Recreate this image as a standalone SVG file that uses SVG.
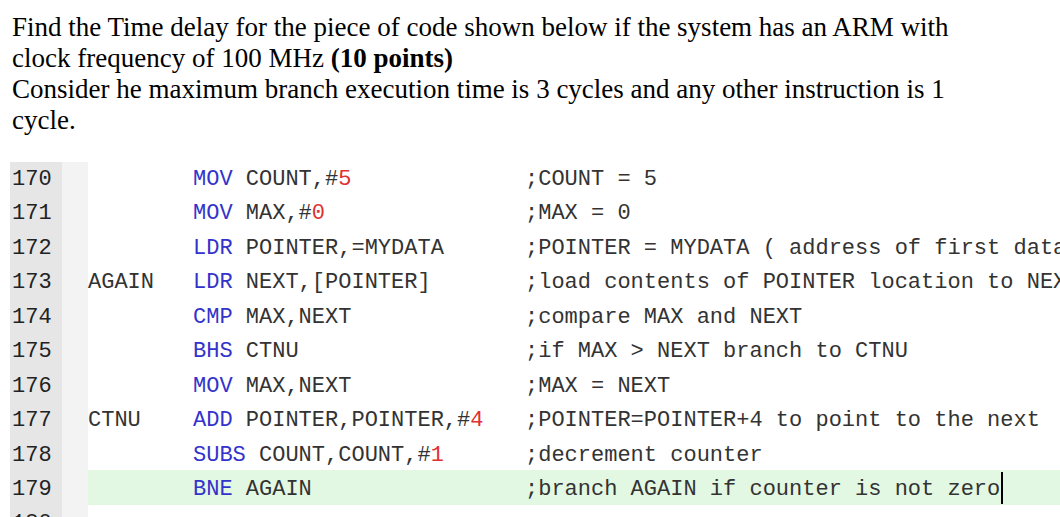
<svg xmlns="http://www.w3.org/2000/svg" width="1060" height="517" viewBox="0 0 1060 517">
<style>
.h{font-family:"Liberation Serif",serif;font-size:27px;fill:#000}
.c{font-family:"Liberation Mono",monospace;font-size:22px;fill:#333}
.n{font-family:"Liberation Mono",monospace;font-size:22px;fill:#222}
.k{fill:#3333cc}.r{fill:#e03030}
</style>
<rect width="1060" height="517" fill="#fff"/>
<text class="h" x="12" y="36">Find the Time delay for the piece of code shown below if the system has an ARM with</text>
<text class="h" x="12" y="67">clock frequency of 100 MHz <tspan font-weight="bold">(10 points)</tspan></text>
<text class="h" x="12" y="98">Consider he maximum branch execution time is 3 cycles and any other instruction is 1</text>
<text class="h" x="12" y="129">cycle.</text>
<rect x="10" y="162" width="52" height="355" fill="#e6e6e6"/>
<rect x="62" y="162" width="26" height="355" fill="#f3f3f3"/>
<rect x="88" y="470" width="972" height="35" fill="#e3f8e3"/>
<g class="n">
<text x="12" y="185">170</text><text x="12" y="219">171</text><text x="12" y="254">172</text><text x="12" y="288">173</text><text x="12" y="323">174</text><text x="12" y="357">175</text><text x="12" y="392">176</text><text x="12" y="426">177</text><text x="12" y="461">178</text><text x="12" y="495">179</text><text x="12" y="529">180</text>
</g>
<g class="c">
<text x="88" y="288">AGAIN</text><text x="88" y="426">CTNU</text>
<text x="193" y="185"><tspan class="k">MOV</tspan> COUNT,#<tspan class="r">5</tspan></text>
<text x="193" y="219"><tspan class="k">MOV</tspan> MAX,#<tspan class="r">0</tspan></text>
<text x="193" y="254"><tspan class="k">LDR</tspan> POINTER,=MYDATA</text>
<text x="193" y="288"><tspan class="k">LDR</tspan> NEXT,[POINTER]</text>
<text x="193" y="323"><tspan class="k">CMP</tspan> MAX,NEXT</text>
<text x="193" y="357"><tspan class="k">BHS</tspan> CTNU</text>
<text x="193" y="392"><tspan class="k">MOV</tspan> MAX,NEXT</text>
<text x="193" y="426"><tspan class="k">ADD</tspan> POINTER,POINTER,#<tspan class="r">4</tspan></text>
<text x="193" y="461"><tspan class="k">SUBS</tspan> COUNT,COUNT,#<tspan class="r">1</tspan></text>
<text x="193" y="495"><tspan class="k">BNE</tspan> AGAIN</text>
<text x="525" y="185">;COUNT = 5</text>
<text x="525" y="219">;MAX = 0</text>
<text x="525" y="254">;POINTER = MYDATA ( address of first data</text>
<text x="525" y="288">;load contents of POINTER location to NEXT</text>
<text x="525" y="323">;compare MAX and NEXT</text>
<text x="525" y="357">;if MAX &gt; NEXT branch to CTNU</text>
<text x="525" y="392">;MAX = NEXT</text>
<text x="525" y="426">;POINTER=POINTER+4 to point to the next</text>
<text x="525" y="461">;decrement counter</text>
<text x="525" y="495">;branch AGAIN if counter is not zero</text>
</g>
<line x1="1002" y1="472" x2="1002" y2="504" stroke="#000" stroke-width="2"/>
</svg>
